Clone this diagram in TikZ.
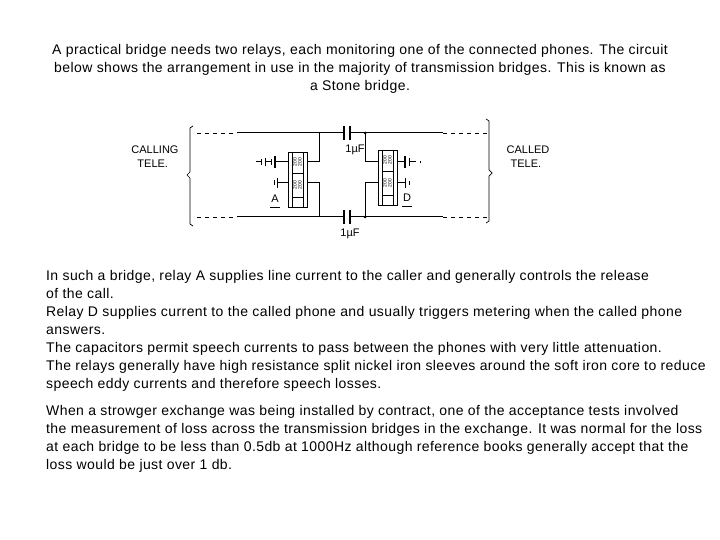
\documentclass[tikz,border=0pt]{standalone}
\usepackage{fontspec}
\setmainfont{Liberation Sans}
\newfontfamily\wide[LetterSpace=3]{Liberation Sans}
\begin{document}
\begin{tikzpicture}[x=1pt,y=-1pt,
  txt/.style={anchor=base west,inner sep=0pt,font=\wide\fontsize{14}{16}\selectfont},
  ctxt/.style={anchor=base,inner sep=0pt,font=\wide\fontsize{14}{16}\selectfont},
  hand/.style={inner sep=0pt,font=\fontsize{11}{13}\selectfont},
  wire/.style={line width=1pt},
  dwire/.style={line width=0.8pt,dash pattern=on 4pt off 4pt},
  coil/.style={draw,line width=0.7pt},
  small/.style={inner sep=0pt,font=\fontsize{5}{6}\selectfont}]
\useasboundingbox (0,0) rectangle (720,540);
% top text
\node[ctxt] (t1) at (360,55) {A practical bridge needs two relays, each monitoring one of the connected phones. The circuit};
\node[ctxt] (t2) at (360,73) {below shows the arrangement in use in the majority of transmission bridges. This is known as};
\node[ctxt] (t3) at (360,91) {a Stone bridge.};
% circuit coordinates
\coordinate (TL) at (197,133); \coordinate (TR) at (487,133);
\coordinate (BL) at (197,217); \coordinate (BR) at (487,217);
\coordinate (TLs) at (237,133); \coordinate (BLs) at (237,217);
\coordinate (TRs) at (443,133); \coordinate (BRs) at (443,217);
\coordinate (JA) at (319,133); \coordinate (JAb) at (319,217);
\coordinate (JD) at (365,133); \coordinate (JDb) at (365,217);
\draw[dwire] (TL) -- (TLs); \draw[dwire] (BL) -- (BLs);
\draw[dwire] (TRs) -- (TR); \draw[dwire] (BRs) -- (BR);
% top capacitor
\draw[wire] (TLs) -- (344,133); \draw[wire] (350,133) -- (TRs);
\draw[line width=1.2pt] (344,126) -- (344,140); \draw[line width=1.2pt] (350,126) -- (350,140);
% bottom capacitor
\draw[wire] (BLs) -- (344,217); \draw[wire] (350,217) -- (BRs);
\draw[line width=1.2pt] (344,210) -- (344,224); \draw[line width=1.2pt] (350,210) -- (350,224);
\fill (JD) circle (1.5); \fill (JDb) circle (1.5);
\node[hand] (c1) at (355,150) {1µF};
\node[hand] (c2) at (350,234) {1µF};
% braces
\draw[line width=0.7pt] (193,126) -- (190,128) -- (190,172) -- (187,175) -- (190,178) -- (190,224) -- (193,226);
\draw[line width=0.7pt] (486,119) -- (489,121) -- (489,170) -- (492,173) -- (489,176) -- (489,221) -- (486,223);
\node[hand,align=left] (calling) at (155,157) {CALLING\\[1pt]\hspace*{6pt}TELE.};
\node[hand,align=left] (called) at (528,157) {CALLED\\[1pt]\hspace*{4pt}TELE.};
% relay A
\draw[coil] (288,152) rectangle (307,207);
\draw[coil] (292,152) rectangle (303,207);
\draw[coil] (292,173) -- (303,173); \draw[coil] (292,197) -- (303,197);
\node[small,rotate=90] (a1) at (295,162) {200}; \node[small,rotate=90] (a2) at (300,162) {200};
\node[small,rotate=90] (a3) at (295,185) {200}; \node[small,rotate=90] (a4) at (300,185) {200};
\draw[wire] (307,162) -- (319,162) -- (JA);
\draw[wire] (307,183) -- (319,183) -- (JAb);
\draw[wire] (288,162) -- (275,162); \draw[line width=1.2pt] (275,156) -- (275,168);
\draw[wire] (271,159) -- (271,165); \draw[wire] (271,162) -- (265,162);
\draw[line width=1pt] (265,158) -- (265,166); \draw[wire] (261,162) -- (256,162);
\draw[wire] (261,159) -- (261,165);
\draw[wire] (288,183) -- (277,183); \draw[line width=1pt] (277,178) -- (277,188);
\draw[line width=0.6pt] (274,180) -- (274,185);
\node[hand] (lA) at (275,199) {A}; \draw[line width=0.6pt] (270,207) -- (280,207);
% relay D
\draw[coil] (378,150) rectangle (397,205);
\draw[coil] (382,150) rectangle (393,205);
\draw[coil] (382,171) -- (393,171); \draw[coil] (382,195) -- (393,195);
\node[small,rotate=90] (d1) at (385,160) {200}; \node[small,rotate=90] (d2) at (390,160) {200};
\node[small,rotate=90] (d3) at (385,183) {200}; \node[small,rotate=90] (d4) at (390,183) {200};
\draw[wire] (378,162) -- (365,162) -- (JD);
\draw[wire] (378,183) -- (365,183) -- (JDb);
\draw[wire] (397,162) -- (405,162); \draw[line width=1.2pt] (405,156) -- (405,168);
\draw[wire] (409,158) -- (409,166); \draw[wire] (409,162) -- (416,162);
\draw[line width=0.6pt] (420,161) -- (420,163);
\draw[wire] (397,183) -- (405,183); \draw[line width=1pt] (405,178) -- (405,188);
\draw[line width=0.6pt] (409,181) -- (409,185);
\node[hand] (lD) at (407,198) {D}; \draw[line width=0.6pt] (402,206) -- (412,206);
% lower text
\node[txt] (b1) at (46,280) {In such a bridge, relay A supplies line current to the caller and generally controls the release};
\node[txt] (b2) at (46,298) {of the call.};
\node[txt] (b3) at (46,316) {Relay D supplies current to the called phone and usually triggers metering when the called phone};
\node[txt] (b4) at (46,334) {answers.};
\node[txt] (b5) at (46,352) {The capacitors permit speech currents to pass between the phones with very little attenuation.};
\node[txt] (b6) at (46,370) {The relays generally have high resistance split nickel iron sleeves around the soft iron core to reduce};
\node[txt] (b7) at (46,388) {speech eddy currents and therefore speech losses.};
\node[txt] (b8) at (46,415) {When a strowger exchange was being installed by contract, one of the acceptance tests involved};
\node[txt] (b9) at (46,433) {the measurement of loss across the transmission bridges in the exchange. It was normal for the loss};
\node[txt] (b10) at (46,451) {at each bridge to be less than 0.5db at 1000Hz although reference books generally accept that the};
\node[txt] (b11) at (46,469) {loss would be just over 1 db.};
\end{tikzpicture}
\end{document}
